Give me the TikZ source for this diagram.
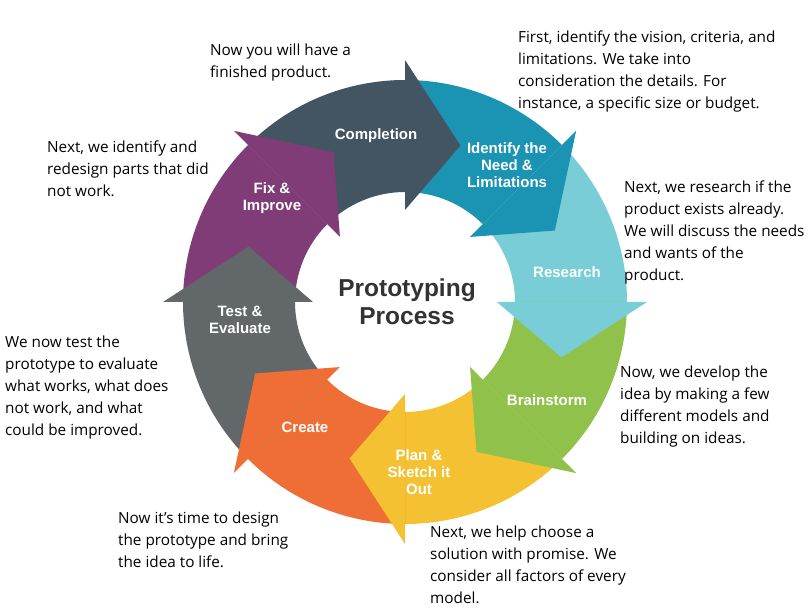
\documentclass[tikz,border=0pt]{standalone}
\usepackage{fontspec}
\setmainfont{Open Sans}
\newfontfamily\lblfont{Liberation Sans}
\begin{document}
\begin{tikzpicture}[x=1pt,y=1pt,
  note/.style={anchor=north west,align=left,font=\fontsize{15.3}{22}\selectfont,inner sep=0pt,text=black},
  seglbl/.style={align=center,text=white,font=\lblfont\bfseries\fontsize{15}{17}\selectfont},
  ]
\useasboundingbox (0,0) rectangle (812,610);
\fill[white] (0,0) rectangle (812,610);
\coordinate (C) at (405,308);
\definecolor{cComp}{HTML}{435563}
\definecolor{cIden}{HTML}{1B93B3}
\definecolor{cRes}{HTML}{79CDD6}
\definecolor{cBrain}{HTML}{8FC14B}
\definecolor{cPlan}{HTML}{F4C132}
\definecolor{cCreate}{HTML}{EE6E35}
\definecolor{cTest}{HTML}{62676A}
\definecolor{cFix}{HTML}{7F3C76}
\foreach \s/\b/\c in {135/90/cComp,90/45/cIden,45/0/cRes,0/-45/cBrain,-45/-90/cPlan,-90/-135/cCreate,-135/-180/cTest,-180/-225/cFix}{
  \fill[\c] ([shift={(C)}]\s:222pt) arc[start angle=\s,end angle=\b,radius=222pt]
    -- ([shift={(C)}]\b:110pt) arc[start angle=\b,end angle=\s,radius=110pt] -- cycle;
}
\foreach \b/\c in {90/cComp,45/cIden,0/cRes,-45/cBrain,-90/cPlan,-135/cCreate,-180/cTest,-225/cFix}{
  \pgfmathsetmacro{\t}{\b-19.5}
  \fill[\c] ([shift={(C)}]\b:242pt) -- ([shift={(C)}]\t:166pt) -- ([shift={(C)}]\b:92pt) -- cycle;
}
\node[seglbl] (l1) at (376,474) {Completion};
\node[seglbl] (l2) at (507,445) {Identify the\\Need \&\\Limitations};
\node[seglbl] (l3) at (567,338) {Research};
\node[seglbl] (l4) at (547,210) {Brainstorm};
\node[seglbl] (l5) at (419,138) {Plan \&\\Sketch it\\Out};
\node[seglbl] (l6) at (305,183) {Create};
\node[seglbl] (l7) at (240,290) {Test \&\\Evaluate};
\node[seglbl] (l8) at (272,412) {Fix \&\\Improve};
\node[align=center,text=black!80,font=\lblfont\bfseries\fontsize{24.5}{28}\selectfont] (ctr) at (407,308) {Prototyping\\Process};
\node[note] (n1) at (210,566) {Now you will have a\\finished product.};
\node[note] (n2) at (518,579) {First, identify the vision, criteria, and\\limitations. We take into\\consideration the details. For\\instance, a specific size or budget.};
\node[note] (n3) at (624,429) {Next, we research if the\\product exists already.\\We will discuss the needs\\and wants of the\\product.};
\node[note] (n4) at (620,244) {Now, we develop the\\idea by making a few\\different models and\\building on ideas.};
\node[note] (n5) at (430,84) {Next, we help choose a\\solution with promise. We\\consider all factors of every\\model.};
\node[note] (n6) at (118,98) {Now it{\char"0027}s time to design\\the prototype and bring\\the idea to life.};
\node[note] (n7) at (5,274) {We now test the\\prototype to evaluate\\what works, what does\\not work, and what\\could be improved.};
\node[note] (n8) at (47,469) {Next, we identify and\\redesign parts that did\\not work.};
\end{tikzpicture}
\end{document}
